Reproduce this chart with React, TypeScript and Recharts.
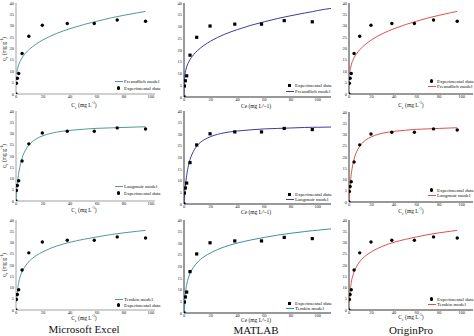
import React from "react";
import { ScatterChart, Scatter, XAxis, YAxis } from "recharts";

// experimental points (Ce in mg/L, qe in mg/g)
const ceExp = [0, 0.3, 1, 2, 4.5, 9.5, 19.5, 38, 58, 75, 96];
const qeExp = [0, 4.7, 6.9, 9, 17.8, 25.4, 30.2, 31, 31, 32.5, 32];

// model curves
const freundCe = [0, 0.05, 0.2, 0.5, 1, 2, 4, 7, 10, 15, 20, 30, 40, 50, 60, 70, 80, 90, 96, 100, 110];
const freundQe = [0, 4.7, 6.9, 8.8, 10.6, 12.8, 15.4, 17.9, 19.7, 22.0, 23.8, 26.6, 28.7, 30.5, 32.0, 33.4, 34.6, 35.7, 36.3, 36.8, 37.7];

const langCe = [0, 0.5, 1, 2, 3, 4.5, 6, 8, 10, 15, 20, 30, 40, 50, 60, 70, 80, 90, 96, 100, 110];
const langQe = [0, 4.2, 7.5, 12.3, 15.6, 19.1, 21.4, 23.6, 25.2, 27.6, 29.0, 30.6, 31.4, 31.9, 32.3, 32.5, 32.7, 32.9, 33.0, 33.0, 33.1];

const temkCe = [0.27, 0.5, 1, 2, 4, 7, 10, 15, 20, 30, 40, 50, 60, 70, 80, 90, 96, 100, 110];
const temkQe = [0, 3.8, 8.0, 12.1, 16.3, 19.6, 21.8, 24.2, 25.9, 28.4, 30.1, 31.4, 32.5, 33.5, 34.3, 35.0, 35.4, 35.6, 36.2];

const xTicks = [0, 20, 40, 60, 80, 100];
const yTicks = [0, 5, 10, 15, 20, 25, 30, 35, 40];

const SERIF = '"Liberation Serif", "DejaVu Serif", serif';

type Pt = { x: number; y: number };
const toPts = (xs: number[], ys: number[], lo = 0, hi = Infinity): Pt[] =>
  xs.map((x, i) => ({ x, y: ys[i] })).filter((p) => p.x >= lo && p.x <= hi);

const expPts = toPts(ceExp, qeExp);

const Dot = (p: any) => <circle cx={p.cx} cy={p.cy} r={1.7} fill="#000" />;
const Sq = (p: any) => <rect x={p.cx - 1.6} y={p.cy - 1.6} width={3.2} height={3.2} fill="#000" />;
const NoShape = () => <g />;

type Kind = "excel" | "matlab" | "origin";

function Panel({ l, t, r, b, xMax, kind, model, color }: {
  l: number; t: number; r: number; b: number; xMax: number; kind: Kind; model: Pt[]; color: string;
}) {
  const YW = 18, MT = 4, XH = 8, MR = 2;
  const w = r - l + YW + MR;
  const h = b - t + MT + XH;
  const boxed = kind !== "excel";
  const axisColor = boxed ? "#333" : "#a0a0a0";
  const tick = { fontSize: 4.5, fill: "#222", fontFamily: SERIF };
  return (
    <div style={{ position: "absolute", left: l - YW, top: t - MT }}>
      <ScatterChart width={w} height={h} margin={{ top: MT, right: MR, bottom: 0, left: 0 }}>
        <XAxis type="number" dataKey="x" domain={[0, xMax]} ticks={xTicks} allowDataOverflow
          height={XH} tick={tick} tickSize={0} tickMargin={1} stroke={axisColor} interval={0} />
        <YAxis type="number" dataKey="y" domain={[0, 40]} ticks={yTicks} allowDataOverflow
          width={YW} tick={tick} tickSize={0} tickMargin={2} stroke={axisColor} interval={0} />
        {boxed && (
          <XAxis xAxisId="top" orientation="top" type="number" domain={[0, xMax]} ticks={xTicks}
            height={0} tick={false} mirror tickSize={2} stroke={axisColor} />
        )}
        {boxed && (
          <YAxis yAxisId="right" orientation="right" type="number" domain={[0, 40]} ticks={yTicks}
            width={0} tick={false} mirror tickSize={2} stroke={axisColor} />
        )}
        <Scatter data={model} line={{ stroke: color, strokeWidth: 1 }} lineType="joint"
          lineJointType="monotoneX" shape={NoShape} isAnimationActive={false} />
        <Scatter data={expPts} shape={kind === "matlab" ? Sq : Dot} isAnimationActive={false} />
      </ScatterChart>
    </div>
  );
}

function Legend({ x, ys, items }: { x: number; ys: number[]; items: { kind: "line" | "dot" | "sq"; color: string; label: string }[] }) {
  return (
    <>
      {items.map((it, i) => (
        <div key={i} style={{ position: "absolute", left: x, top: ys[i] - 3, height: 6, display: "flex",
          alignItems: "center", fontFamily: SERIF, fontSize: 5, lineHeight: 1, color: "#111", whiteSpace: "nowrap" }}>
          <div style={{ width: 9, display: "flex", justifyContent: "center", alignItems: "center" }}>
            {it.kind === "line" && <div style={{ width: 8, height: 1, background: it.color }} />}
            {it.kind === "dot" && <div style={{ width: 3.4, height: 3.4, borderRadius: 2, background: "#000" }} />}
            {it.kind === "sq" && <div style={{ width: 3, height: 3, background: "#000" }} />}
          </div>
          <span style={{ marginLeft: 1 }}>{it.label}</span>
        </div>
      ))}
    </>
  );
}

function Label({ x, y, children, size = 5.5, rotate = false }: { x: number; y: number; children: React.ReactNode; size?: number; rotate?: boolean }) {
  return (
    <div style={{ position: "absolute", left: x, top: y, transform: `translate(-50%, -50%)${rotate ? " rotate(-90deg)" : ""}`,
      fontFamily: SERIF, fontSize: size, color: "#111", whiteSpace: "nowrap", lineHeight: 1 }}>
      {children}
    </div>
  );
}

const CeSub = () => (<>C<sub style={{ fontSize: "0.7em", lineHeight: 0 }}>e</sub> (mg L<sup style={{ fontSize: "0.7em", lineHeight: 0 }}>-1</sup>)</>);
const QeSub = () => (<>q<sub style={{ fontSize: "0.7em", lineHeight: 0 }}>e</sub> (mg g<sup style={{ fontSize: "0.7em", lineHeight: 0 }}>-1</sup>)</>);

const EXCEL = "#4f9a98";
const MAT_BLUE = "#3b3ca2";
const MAT_TEAL = "#3f8db0";
const ORIGIN = "#e0504c";

const rows = [
  { t: 3, b: 94, mt: 3, mb: 97, ot: 3, ob: 94, name: "Freundlich model", xs: freundCe, ys: freundQe, lo: 0.5, mColor: MAT_BLUE,
    exLeg: [81, 88], matLeg: [85, 91], orLeg: [81, 86], xl: [106, 107, 106] },
  { t: 111, b: 201, mt: 111, mb: 204, ot: 112, ob: 202, name: "Langmuir model", xs: langCe, ys: langQe, lo: 0, mColor: MAT_BLUE,
    exLeg: [186, 193], matLeg: [194, 199], orLeg: [190, 195], xl: [211, 213, 212] },
  { t: 220, b: 310, mt: 220, mb: 313, ot: 220, ob: 310, name: "Temkin model", xs: temkCe, ys: temkQe, lo: 0.5, mColor: MAT_TEAL,
    exLeg: [299, 305], matLeg: [303, 308], orLeg: [299, 304], xl: [319, 321, 318] },
];

export default function App() {
  return (
    <div style={{ position: "absolute", left: 0, top: 0, width: 474, height: 336, background: "#fff", overflow: "hidden" }}>
      {rows.map((row, i) => {
        const excelModel = toPts(row.xs, row.ys, row.lo, 96);
        const matModel = toPts(row.xs, row.ys, 0, 110);
        const orModel = toPts(row.xs, row.ys, row.lo, 96);
        return (
          <React.Fragment key={i}>
            <Panel l={16} t={row.t} r={155} b={row.b} xMax={103} kind="excel" model={excelModel} color={EXCEL} />
            <Panel l={184} t={row.mt} r={331} b={row.mb} xMax={110} kind="matlab" model={matModel} color={row.mColor} />
            <Panel l={349} t={row.ot} r={473} b={row.ob} xMax={110} kind="origin" model={orModel} color={ORIGIN} />
            <Legend x={114} ys={row.exLeg} items={[
              { kind: "line", color: EXCEL, label: row.name },
              { kind: "dot", color: "#000", label: "Experimental data" },
            ]} />
            <Legend x={285} ys={row.matLeg} items={[
              { kind: "sq", color: "#000", label: "Experimental data" },
              { kind: "line", color: row.mColor, label: row.name },
            ]} />
            <Legend x={427} ys={row.orLeg} items={[
              { kind: "dot", color: "#000", label: "Experimental data" },
              { kind: "line", color: ORIGIN, label: row.name },
            ]} />
            <Label x={84} y={row.xl[0]}><CeSub /></Label>
            <Label x={256} y={row.xl[1]}>Ce (mg L^-1)</Label>
            <Label x={411} y={row.xl[2]}><CeSub /></Label>
            <Label x={5} y={(row.t + row.b) / 2} rotate><QeSub /></Label>
          </React.Fragment>
        );
      })}
      <Label x={84} y={329} size={11}>Microsoft Excel</Label>
      <Label x={256} y={330} size={11}>MATLAB</Label>
      <Label x={411} y={330} size={11}>OriginPro</Label>
    </div>
  );
}
